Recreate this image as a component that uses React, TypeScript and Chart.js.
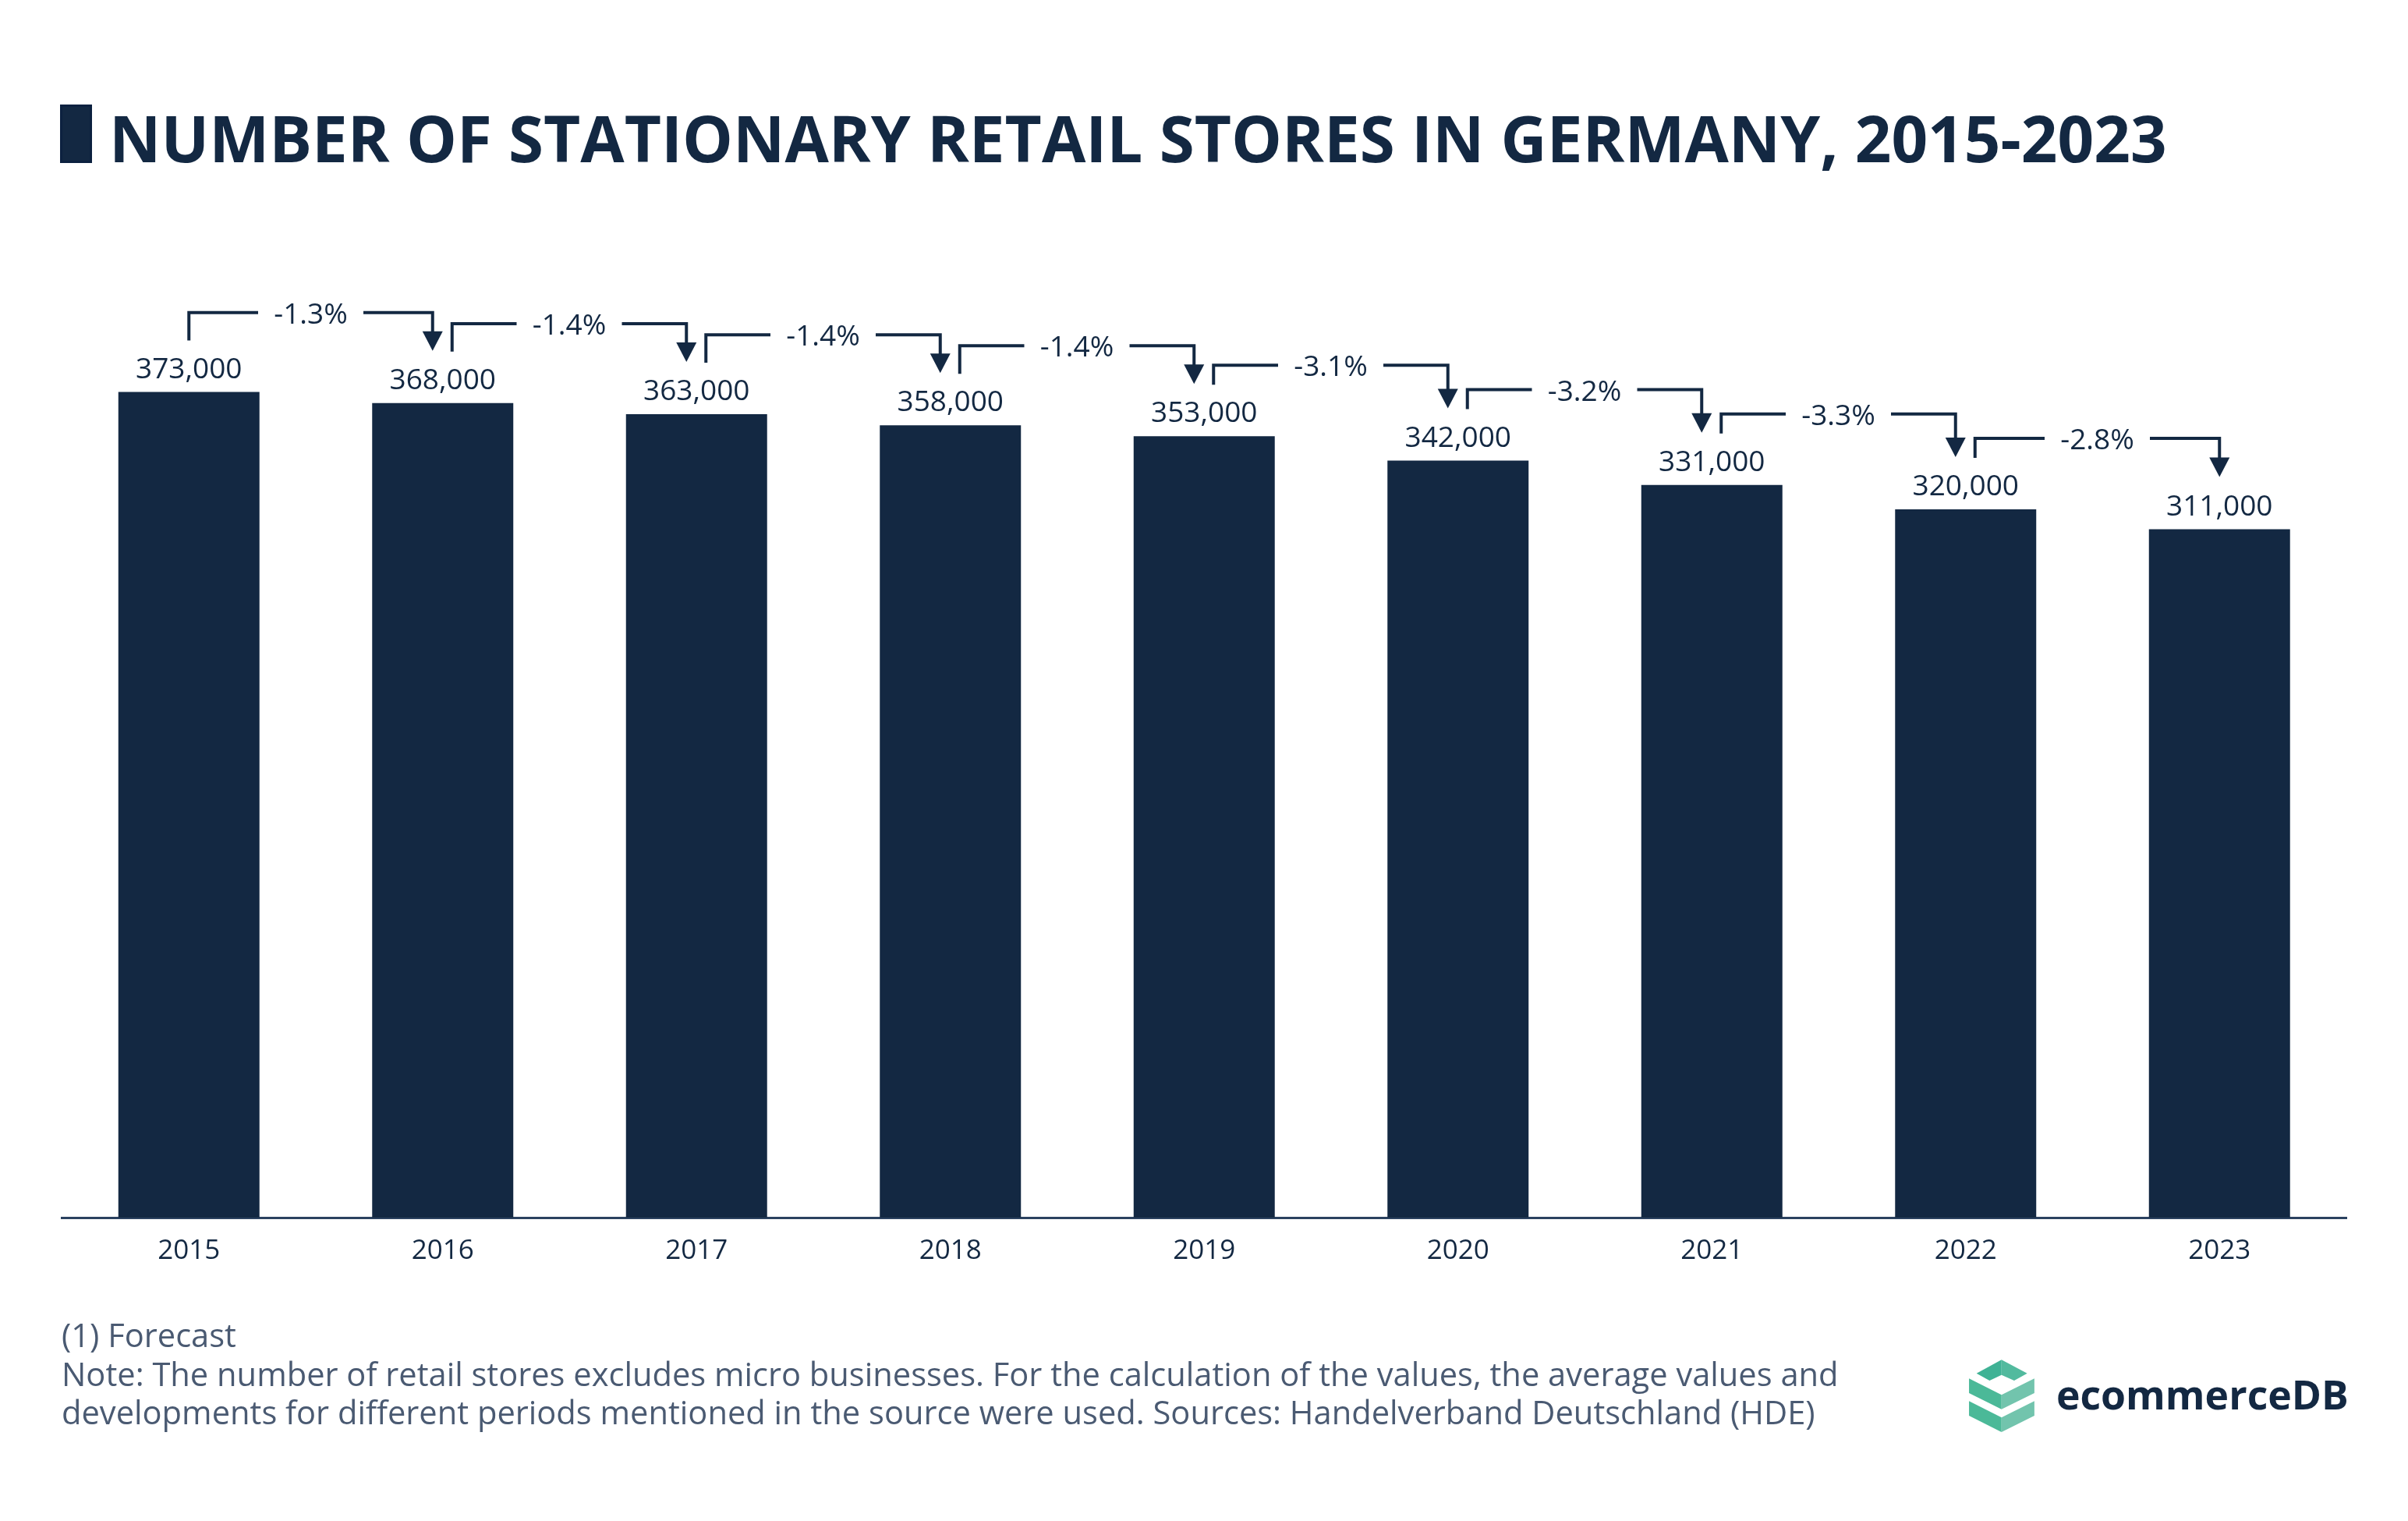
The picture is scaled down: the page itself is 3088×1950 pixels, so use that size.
import { useEffect, useRef } from "react"
import { Chart, registerables } from "chart.js"

Chart.register(...registerables)

const years = ["2015", "2016", "2017", "2018", "2019", "2020", "2021", "2022", "2023"]
const stores = [373000, 368000, 363000, 358000, 353000, 342000, 331000, 320000, 311000]
const changes = ["-1.3%", "-1.4%", "-1.4%", "-1.4%", "-3.1%", "-3.2%", "-3.3%", "-2.8%"]

const navy = "#132842"
const font = '"Open Sans", sans-serif'

const footnotes = [
  "(1) Forecast",
  "Note: The number of retail stores excludes micro businesses. For the calculation of the values, the average values and",
  "developments for different periods mentioned in the source were used. Sources: Handelverband Deutschland (HDE)",
]

// value labels and the bent arrows between the bars
const annotations = {
  id: "annotations",
  afterDatasetsDraw(chart: Chart) {
    const { ctx, scales } = chart
    const x = scales.x
    const y = scales.y
    ctx.save()
    ctx.fillStyle = navy
    ctx.strokeStyle = navy
    ctx.lineWidth = 4
    ctx.font = `37px ${font}`
    ctx.textAlign = "center"
    ctx.textBaseline = "alphabetic"

    stores.forEach((v, i) => {
      ctx.fillText(v.toLocaleString("en-US"), x.getPixelForValue(i), y.getPixelForValue(v) - 18)
    })

    changes.forEach((label, i) => {
      const self = y.getPixelForValue(stores[i])
      const next = y.getPixelForValue(stores[i + 1])
      // the line clears both the bar it leaves and the arrow it lands on
      const top = Math.min(self - 91, next - 116)
      const tip = next - 67
      const start = x.getPixelForValue(i) + (i === 0 ? 0 : 12)
      const end = x.getPixelForValue(i + 1) - (i === changes.length - 1 ? 0 : 13)
      const mid = (start + end) / 2

      ctx.beginPath()
      ctx.moveTo(start, self - 66)
      ctx.lineTo(start, top)
      ctx.lineTo(mid - 67.5, top)
      ctx.moveTo(mid + 67.5, top)
      ctx.lineTo(end, top)
      ctx.lineTo(end, tip - 20)
      ctx.stroke()

      ctx.beginPath()
      ctx.moveTo(end - 13, tip - 25)
      ctx.lineTo(end + 13, tip - 25)
      ctx.lineTo(end, tip)
      ctx.closePath()
      ctx.fill()

      ctx.fillText(label, mid, top + 14)
    })
    ctx.restore()
  },
}

const Logo = () => (
  <svg
    viewBox="0 0 1568 660"
    width={688}
    height={220}
    preserveAspectRatio="none"
    style={{ position: "absolute", left: 2400, top: 1680 }}
  >
    <polygon points="380,190 307,242 345,270 380,248" fill="#3fb295" />
    <polygon points="380,190 455,242 417,270 380,248" fill="#52ba9e" />
    <polygon points="285,262 380,325 380,380 285,318" fill="#4bb998" />
    <polygon points="476,262 380,325 380,380 476,318" fill="#72c4ad" />
    <polygon points="285,349 380,412 380,468 285,405" fill="#4bb998" />
    <polygon points="476,349 380,412 380,468 476,405" fill="#72c4ad" />
  </svg>
)

const App = () => {
  const chartRef = useRef<HTMLCanvasElement>(null)

  useEffect(() => {
    if (!chartRef.current) return
    document.body.style.margin = "0"

    const chart = new Chart(chartRef.current, {
      type: "bar",
      data: {
        labels: years,
        datasets: [
          {
            data: stores,
            backgroundColor: navy,
            categoryPercentage: 1,
            barPercentage: 0.556,
          },
        ],
      },
      options: {
        animation: false,
        responsive: false,
        devicePixelRatio: 1,
        layout: { padding: { left: 79.5, right: 79, top: 426, bottom: 0 } },
        plugins: { legend: { display: false }, tooltip: { enabled: false } },
        scales: {
          x: {
            grid: { display: false, drawTicks: false },
            border: { color: "#2b4260", width: 3 },
            ticks: { color: navy, padding: 22, font: { family: font, size: 35 }, maxRotation: 0 },
            afterFit: (scale) => {
              scale.height = 389
            },
          },
          y: { display: false, min: 0, max: 400000 },
        },
      },
      plugins: [annotations],
    })

    return () => chart.destroy()
  }, [])

  return (
    <div style={{ position: "relative", width: 3088, height: 1950, background: "#fff", overflow: "hidden", fontFamily: font }}>
      <canvas ref={chartRef} width={3088} height={1950} style={{ position: "absolute", left: 0, top: 0 }} />
      <div style={{ position: "absolute", left: 77, top: 134, width: 41, height: 75, boxSizing: "border-box", background: navy, border: "3px solid #0c2140" }} />
      <div style={{ position: "absolute", left: 140, top: 122, fontSize: 81.7, lineHeight: "110px", fontWeight: 700, color: navy, whiteSpace: "nowrap" }}>
        NUMBER OF STATIONARY RETAIL STORES IN GERMANY, 2015-2023
      </div>
      {footnotes.map((line, i) => (
        <div
          key={i}
          style={{ position: "absolute", left: 79, top: 1685 + i * 49.5, fontSize: 41.65, lineHeight: "52px", color: "#4a5a72", whiteSpace: "nowrap" }}
        >
          {line}
        </div>
      ))}
      <Logo />
      <div style={{ position: "absolute", left: 2637, top: 1749, fontSize: 51.7, lineHeight: "76px", fontWeight: 700, color: navy, whiteSpace: "nowrap" }}>
        ecommerceDB
      </div>
    </div>
  )
}

export default App
